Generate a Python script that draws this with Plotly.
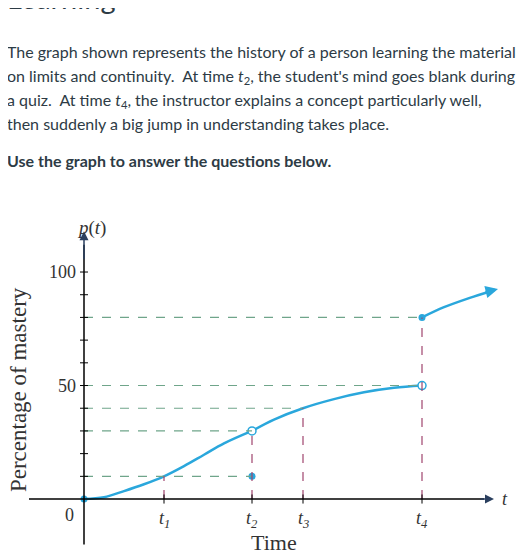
import plotly.graph_objects as go

# curve pieces (t in px-ish units from origin, p in %)
seg1_t = [0, 20, 40, 60, 80, 100, 120, 140, 168]
seg1_p = [0, 0.8, 3.5, 6.5, 10, 14.5, 19.5, 24.5, 30]
seg2_t = [168, 190, 219, 250, 280, 310, 338]
seg2_p = [30, 35, 40, 44, 47, 49, 50]
seg3_t = [338, 360, 385, 410]
seg3_p = [80, 84.5, 88.5, 92]

closed_t = [0, 168, 338]
closed_p = [0, 10, 80]
open_t = [168, 338]
open_p = [30, 50]

tick_t = [80, 168, 219, 338]
tick_names = ["t<sub>1</sub>", "t<sub>2</sub>", "t<sub>3</sub>", "t<sub>4</sub>"]
guide_p = [10, 30, 40, 50, 80]
guide_end = [168, 168, 219, 338, 338]
vert_top = [10, 30, 40, 80]

blue = "#2aa7dc"
serif = "Liberation Serif"
body = "Lato"
ink = "#333"

fig = go.Figure()

# guides
for p, te in zip(guide_p, guide_end):
    fig.add_shape(type="line", x0=0, x1=te, y0=p, y1=p,
                  line=dict(color="#6fa58a", width=1.2, dash="dash"))
for t, p in zip(tick_t, vert_top):
    fig.add_shape(type="line", x0=t, x1=t, y0=0, y1=p,
                  line=dict(color="#a0456e", width=1.2, dash="dash"))

# axes
fig.add_shape(type="line", x0=-55, x1=400, y0=0, y1=0, line=dict(color="black", width=1.5))
fig.add_shape(type="line", x0=0, x1=0, y0=-20, y1=112, line=dict(color="black", width=1.5))
fig.add_annotation(x=410, y=0, ax=395, ay=0, axref="x", ayref="y", xref="x", yref="y",
                   showarrow=True, arrowhead=2, arrowsize=1.2, arrowwidth=1.5, text="")
fig.add_annotation(x=0, y=118, ax=0, ay=105, axref="x", ayref="y", xref="x", yref="y",
                   showarrow=True, arrowhead=2, arrowsize=1.2, arrowwidth=1.5, text="")
for p in range(10, 110, 10):
    fig.add_shape(type="line", x0=-4, x1=4, y0=p, y1=p, line=dict(color="black", width=1))
for t in tick_t:
    fig.add_shape(type="line", x0=t, x1=t, y0=-2, y1=2, line=dict(color="black", width=1))

for xs, ys in [(seg1_t, seg1_p), (seg2_t, seg2_p), (seg3_t, seg3_p)]:
    fig.add_trace(go.Scatter(x=xs, y=ys, mode="lines", line=dict(color=blue, width=2.5, shape="spline")))
fig.add_annotation(x=414, y=92.5, ax=400, ay=91, axref="x", ayref="y", xref="x", yref="y",
                   showarrow=True, arrowhead=2, arrowsize=1, arrowwidth=2.5, arrowcolor=blue, text="")
fig.add_trace(go.Scatter(x=closed_t, y=closed_p, mode="markers",
                         marker=dict(color=blue, size=7)))
fig.add_trace(go.Scatter(x=open_t, y=open_p, mode="markers",
                         marker=dict(color="white", size=8, line=dict(color=blue, width=1.5))))

# axis labels
for p in [100, 50]:
    fig.add_annotation(x=-6, y=p, text=str(p), showarrow=False, xanchor="right",
                       font=dict(family=serif, size=18, color=ink))
fig.add_annotation(x=-8, y=-7, text="0", showarrow=False, xanchor="right",
                   font=dict(family=serif, size=18, color=ink))
for t, n in zip(tick_t, tick_names):
    fig.add_annotation(x=t, y=-9, text="<i>" + n + "</i>", showarrow=False,
                       font=dict(family=serif, size=18, color=ink))
fig.add_annotation(x=416, y=0, text="<i>t</i>", showarrow=False, xanchor="left",
                   font=dict(family=serif, size=18, color=ink))
fig.add_annotation(x=190, y=-19, text="Time", showarrow=False,
                   font=dict(family=serif, size=22, color=ink))
fig.add_annotation(x=7, y=125, text="<i>p</i>(<i>t</i>)", showarrow=False, yanchor="top",
                   font=dict(family=serif, size=19, color=ink))
fig.add_annotation(x=-66, y=48, text="Percentage of mastery", showarrow=False, textangle=-90,
                   font=dict(family=serif, size=23, color=ink))

# page text
lines = [
    "The graph shown represents the history of a person learning the material",
    "on limits and continuity.  At time <i>t</i><sub>2</sub>, the student's mind goes blank during",
    "a quiz.  At time <i>t</i><sub>4</sub>, the instructor explains a concept particularly well,",
    "then suddenly a big jump in understanding takes place.",
]
fig.add_annotation(x=-3 / 528, y=1 + 10 / 558, xref="paper", yref="paper", text="Learning",
                   showarrow=False, xanchor="left", yanchor="middle",
                   font=dict(family=body, size=29, color="#2d3b45"))
for i, s in enumerate(lines):
    fig.add_annotation(x=-3 / 528, y=1 - (44 + 24 * i) / 558, xref="paper", yref="paper", text=s,
                       showarrow=False, xanchor="left", yanchor="middle",
                       font=dict(family=body, size=16, color="#2d3b45"))
fig.add_annotation(x=-3 / 528, y=1 - 152 / 558, xref="paper", yref="paper",
                   text="<b>Use the graph to answer the questions below.</b>",
                   showarrow=False, xanchor="left", yanchor="middle",
                   font=dict(family=body, size=16, color="#2d3b45"))

fig.update_layout(
    width=528, height=558, margin=dict(l=0, r=0, t=0, b=0),
    paper_bgcolor="white", plot_bgcolor="white", showlegend=False,
    xaxis=dict(range=[-76, 452], domain=[0, 1], visible=False, fixedrange=True),
    yaxis=dict(range=[-29.5, 128.2], domain=[0, (558 - 200) / 558], visible=False, fixedrange=True),
)
fig.write_html("out.html")
